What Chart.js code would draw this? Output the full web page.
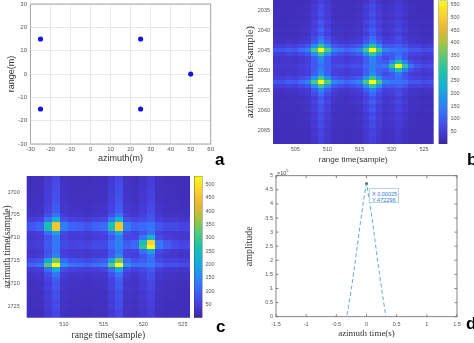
<!DOCTYPE html>
<html><head><meta charset="utf-8">
<script src="https://cdn.jsdelivr.net/npm/chart.js@4.4.1/dist/chart.umd.min.js"></script>
<style>
html,body{margin:0;padding:0;background:#fff;}
#wrap{position:relative;width:474px;height:343px;overflow:hidden;background:#fff;}
canvas{position:absolute;left:0;top:0;}
.lbl{position:absolute;font:bold 17px "Liberation Sans",Arial,sans-serif;line-height:17px;color:#000;}
.tip{position:absolute;left:369px;top:188px;width:30px;height:15px;border:1px solid #b8d2ee;background:#fff;font:5.5px "Liberation Sans",Arial,sans-serif;color:#2a7ad5;line-height:6px;padding:1.5px 2px;box-sizing:border-box;white-space:nowrap;}
.exp{position:absolute;left:277px;top:168px;font:5.5px "Liberation Sans",Arial,sans-serif;color:#444;line-height:6px;}
.exp sup{font-size:4px;}
</style></head><body>
<div id="wrap">
<canvas id="ca" width="474" height="343"></canvas>
<canvas id="cb" width="474" height="343"></canvas>
<canvas id="cbBar" width="474" height="343"></canvas>
<canvas id="cc" width="474" height="343"></canvas>
<canvas id="ccBar" width="474" height="343"></canvas>
<canvas id="cd" width="474" height="343"></canvas>
<div class="lbl" style="left:215px;top:151px;">a</div>
<div class="lbl" style="left:467px;top:151px;">b</div>
<div class="lbl" style="left:216px;top:318px;">c</div>
<div class="lbl" style="left:466px;top:315px;">d</div>
<div class="tip">X 0.00025<br>Y 472296</div>
<div class="exp">×10<sup>5</sup></div>
</div>
<script>
// ---------- Panel a: point targets ----------
const aAzimuth = [-25, 25, -25, 25, 50];
const aRange   = [15, 15, -15, -15, 0];
const aXTicks = [-30,-20,-10,0,10,20,30,40,50,60];
const aYTicks = [-30,-20,-10,0,10,20,30];

// ---------- Panel b: imaging result ----------
const bRangeBins = [502,503,504,505,506,507,508,509,510,511,512,513,514,515,516,517,518,519,520,521,522,523,524,525,526];
const bAzBins = [2033,2034,2035,2036,2037,2038,2039,2040,2041,2042,2043,2044,2045,2046,2047,2048,2049,2050,2051,2052,2053,2054,2055,2056,2057,2058,2059,2060,2061,2062,2063,2064,2065,2066,2067,2068];
const bTargetRange = [509, 517, 521, 509, 517];
const bTargetAz    = [2045, 2045, 2049, 2053, 2053];
const bTargetAmp   = [520, 495, 545, 530, 505];
const bRangeProfile = [1, 0.5, 0.2, 0.12, 0.09, 0.1, 0.08, 0.09, 0.07, 0.08, 0.06, 0.07, 0.05, 0.06, 0.05, 0.05, 0.04, 0.04, 0.04, 0.04, 0.03];
const bAzProfile    = [1, 0.46, 0.2, 0.12, 0.08, 0.1, 0.07, 0.09, 0.06, 0.08, 0.06, 0.07, 0.05, 0.06, 0.05, 0.05, 0.04, 0.04, 0.04, 0.04, 0.03, 0.03, 0.03, 0.03, 0.03];
const bFloor = 10;
const bColorMax = 567;
const bXTicks = [505, 510, 515, 520, 525];
const bYTicks = [2035, 2040, 2045, 2050, 2055, 2060, 2065];
const bBarTicks = [50,100,150,200,250,300,350,400,450,500,550];

// ---------- Panel c: imaging result ----------
const cRangeBins = [505,506,507,508,509,510,511,512,513,514,515,516,517,518,519,520,521,522,523,524,525,526];
const cAzBins = [1697,1698,1699,1700,1701,1702,1703,1704,1705,1706,1707,1708,1709,1710,1711,1712,1713,1714,1715,1716,1717,1718,1719,1720,1721,1722,1723,1724,1725,1726,1727];
const cTargetRange = [509, 509, 517, 517, 521, 521, 509, 517];
const cTargetAz    = [1708, 1707, 1708, 1707, 1712, 1711, 1716, 1716];
const cTargetAmp   = [330, 200, 330, 200, 470, 200, 495, 490];
const cRangeLeft  = [1, 0.5, 0.16, 0.11, 0.08, 0.09, 0.07, 0.08, 0.06, 0.07, 0.05, 0.06, 0.05, 0.05, 0.04, 0.04, 0.04, 0.04];
const cRangeRight = [1, 0.22, 0.14, 0.1, 0.08, 0.09, 0.07, 0.08, 0.06, 0.07, 0.05, 0.06, 0.05, 0.05, 0.04, 0.04, 0.04, 0.04];
const cAzUp   = [1, 0.55, 0.18, 0.11, 0.08, 0.09, 0.07, 0.08, 0.06, 0.07, 0.05, 0.06, 0.05, 0.05, 0.04, 0.04, 0.04, 0.04, 0.04, 0.03, 0.03];
const cAzDown = [1, 0.3, 0.15, 0.1, 0.08, 0.09, 0.07, 0.08, 0.06, 0.07, 0.05, 0.06, 0.05, 0.05, 0.04, 0.04, 0.04, 0.04, 0.04, 0.03, 0.03];
const cFloor = 10;
const cColorMax = 532;
const cXTicks = [510, 515, 520, 525];
const cYTicks = [1700, 1705, 1710, 1715, 1720, 1725];
const cBarTicks = [50,100,150,200,250,300,350,400,450,500];

// ---------- Panel d: azimuth profile ----------
const dAzTime = [-0.36, -0.33, -0.3, -0.25, -0.2, -0.15, -0.1, -0.05, 0.00025, 0.05, 0.1, 0.15, 0.2, 0.25, 0.3, 0.32, 0.35];
const dAmplitude = [-40000, 0, 35000, 100000, 175000, 255000, 335000, 410000, 472296, 410000, 335000, 255000, 175000, 100000, 30000, 0, -45000];
const dPeakTime = 0.00025;
const dPeakAmp = 472296;
const dXTicks = [-1.5, -1, -0.5, 0, 0.5, 1, 1.5];
const dYTicks = [0, 50000, 100000, 150000, 200000, 250000, 300000, 350000, 400000, 450000, 500000];

// ---------- helpers ----------
const SANS = "'Liberation Sans', Arial, sans-serif";
const SERIF = "'Liberation Serif', 'Times New Roman', serif";
const TICKC = '#555';
const PARULA = [[62,38,168],[71,64,224],[60,104,250],[38,142,240],[20,176,214],[28,194,172],[84,202,122],[165,196,64],[232,182,50],[252,210,44],[249,251,21]];
function parula(t){
  t = Math.max(0, Math.min(1, t));
  const s = t*(PARULA.length-1), i = Math.min(Math.floor(s), PARULA.length-2), f = s-i;
  const a = PARULA[i], b = PARULA[i+1];
  return 'rgb(' + [0,1,2].map(k => Math.round(a[k]+(b[k]-a[k])*f)).join(',') + ')';
}
function pick(neg, pos, d){ const arr = d < 0 ? neg : pos; return arr[Math.min(Math.abs(d), arr.length-1)]; }
function buildCells(rBins, zBins, tr, tz, amp, rL, rR, zU, zD, floor){
  const out = [];
  for (const r of rBins) for (const z of zBins){
    let v = floor;
    for (let k = 0; k < tr.length; k++) v += amp[k]*pick(rL, rR, r-tr[k])*pick(zU, zD, z-tz[k]);
    out.push({x: r, y: z, v});
  }
  return out;
}
const fixedTicks = vals => s => { s.ticks = vals.map(v => ({value: v})); };
const fitX = h => s => { s.height = h; s.paddingLeft = 0; s.paddingRight = 0; };
const fitY = w => s => { s.width = w; s.paddingTop = 0; s.paddingBottom = 0; };
const num = v => String(v);
const NOGRID = {display:false, drawTicks:false};

const heatPlugin = {
  id: 'heat',
  beforeDatasetsDraw(chart){
    const ds = chart.data.datasets[0];
    const {ctx, chartArea: a, scales: {x, y}} = chart;
    ctx.save(); ctx.beginPath(); ctx.rect(a.left, a.top, a.width, a.height); ctx.clip();
    for (const c of ds.data){
      const x0 = Math.round(x.getPixelForValue(c.x-0.5)), x1 = Math.round(x.getPixelForValue(c.x+0.5));
      const y0 = Math.round(y.getPixelForValue(c.y-0.5)), y1 = Math.round(y.getPixelForValue(c.y+0.5));
      ctx.fillStyle = parula(c.v/ds.vmax);
      ctx.fillRect(Math.min(x0,x1), Math.min(y0,y1), Math.abs(x1-x0), Math.abs(y1-y0));
    }
    ctx.restore();
  }
};
const framePlugin = {
  id: 'frame',
  afterDatasetsDraw(chart, args, o){
    if (!o || !o.color) return;
    const a = chart.chartArea, c = chart.ctx;
    c.save(); c.strokeStyle = o.color; c.lineWidth = o.width || 1;
    c.strokeRect(a.left, a.top, a.width, a.height);
    if (o.ticks){
      const L = o.ticks;
      c.beginPath();
      for (const t of chart.scales.x.ticks){ const p = chart.scales.x.getPixelForValue(t.value); c.moveTo(p, a.bottom); c.lineTo(p, a.bottom-L); c.moveTo(p, a.top); c.lineTo(p, a.top+L); }
      for (const t of chart.scales.y.ticks){ const p = chart.scales.y.getPixelForValue(t.value); c.moveTo(a.left, p); c.lineTo(a.left+L, p); c.moveTo(a.right, p); c.lineTo(a.right-L, p); }
      c.stroke();
    }
    c.restore();
  }
};
Chart.defaults.animation = false;
Chart.defaults.events = [];
Chart.defaults.plugins.legend.display = false;
Chart.defaults.plugins.tooltip.enabled = false;
Chart.defaults.responsive = false;
Chart.defaults.font.family = SANS;

function tickOpts(size, pad){ return {font:{family:SANS, size}, color:TICKC, padding:pad, maxRotation:0, autoSkip:false, callback:num}; }

// ---------- Chart a ----------
new Chart(document.getElementById('ca'), {
  type: 'scatter',
  data: {datasets: [{data: aAzimuth.map((x,i) => ({x, y: aRange[i]})), pointRadius: 2.6, backgroundColor: '#1717dc', borderWidth: 0}]},
  plugins: [framePlugin],
  options: {
    layout: {padding: {left: 6.6, top: 0.5, right: 263.3, bottom: 178.6}},
    plugins: {frame: {color: '#a8a8a8', width: 1}},
    scales: {
      x: {type:'linear', min:-30, max:60, afterBuildTicks: fixedTicks(aXTicks), afterFit: fitX(20.4),
          ticks: tickOpts(6, 1.7), grid: {color:'#e8e8e8', drawTicks:false}, border:{display:false},
          title: {display:true, text:'azimuth(m)', font:{family:SANS, size:9}, color:'#333', padding:0}},
      y: {type:'linear', min:-30, max:30, afterBuildTicks: fixedTicks(aYTicks), afterFit: fitY(23.9),
          ticks: tickOpts(6, 3.5), grid: {color:'#e8e8e8', drawTicks:false}, border:{display:false},
          title: {display:true, text:'range(m)', font:{family:SANS, size:9}, color:'#333', padding:0}}
    }
  }
});

// ---------- Chart b ----------
const bCells = buildCells(bRangeBins, bAzBins, bTargetRange, bTargetAz, bTargetAmp, bRangeProfile, bRangeProfile, bAzProfile, bAzProfile, bFloor);
new Chart(document.getElementById('cb'), {
  type: 'scatter',
  data: {datasets: [{data: bCells, vmax: bColorMax, pointRadius: 0}]},
  plugins: [heatPlugin],
  options: {
    layout: {padding: {left: 244, top: 0, right: 40.3, bottom: 178.2}},
    scales: {
      x: {type:'linear', min:501.5, max:526.5, afterBuildTicks: fixedTicks(bXTicks), afterFit: fitX(20.8),
          ticks: tickOpts(5.5, 1.8), grid: NOGRID, border:{display:false},
          title: {display:true, text:'range time(sample)', font:{family:SANS, size:8}, color:'#333', padding:0}},
      y: {type:'linear', reverse:true, min:2032.5, max:2068.5, afterBuildTicks: fixedTicks(bYTicks), afterFit: fitY(28.7),
          ticks: tickOpts(5.5, 2.7), grid: NOGRID, border:{display:false},
          title: {display:true, text:'azimuth time(sample)', font:{family:SERIF, size:10.5}, color:'#333', padding:0}}
    }
  }
});

function colorbar(id, vmax, ticks, pad, w){
  return new Chart(document.getElementById(id), {
    type: 'bar',
    data: {labels: ['c'], datasets: [{data: [[0, vmax]], barPercentage:1, categoryPercentage:1, borderWidth:0.7, borderColor:'#333', borderSkipped:false,
      backgroundColor: ctx => {
        const a = ctx.chart.chartArea; if (!a) return '#3e26a8';
        const g = ctx.chart.ctx.createLinearGradient(0, a.bottom, 0, a.top);
        PARULA.forEach((c, i) => g.addColorStop(i/(PARULA.length-1), 'rgb(' + c.join(',') + ')'));
        return g;
      }}]},
    options: {
      layout: {padding: pad},
      scales: {
        x: {display:false},
        y: {position:'right', min:0, max:vmax, afterBuildTicks: fixedTicks(ticks), afterFit: fitY(w),
            ticks: tickOpts(5.5, 3), grid: NOGRID, border:{display:false}}
      }
    }
  });
}
colorbar('cbBar', bColorMax, bBarTicks, {left:438.5, top:0.5, right:0.5, bottom:199}, 26);

// ---------- Chart c ----------
const cCells = buildCells(cRangeBins, cAzBins, cTargetRange, cTargetAz, cTargetAmp, cRangeLeft, cRangeRight, cAzUp, cAzDown, cFloor);
new Chart(document.getElementById('cc'), {
  type: 'scatter',
  data: {datasets: [{data: cCells, vmax: cColorMax, pointRadius: 0}]},
  plugins: [heatPlugin],
  options: {
    layout: {padding: {left: 1.3, top: 176, right: 284, bottom: 1.6}},
    scales: {
      x: {type:'linear', min:505.3, max:525.9, afterBuildTicks: fixedTicks(cXTicks), afterFit: fitX(23.7),
          ticks: tickOpts(5.5, 3), grid: NOGRID, border:{display:false},
          title: {display:true, text:'range time(sample)', font:{family:SERIF, size:9.5}, color:'#333', padding:0}},
      y: {type:'linear', reverse:true, min:1696.5, max:1727.5, afterBuildTicks: fixedTicks(cYTicks), afterFit: fitY(25.4),
          ticks: tickOpts(5.5, 7), grid: NOGRID, border:{display:false},
          title: {display:true, text:'azimuth time(sample)', font:{family:SERIF, size:9.5}, color:'#333', padding:0}}
    }
  }
});
colorbar('ccBar', cColorMax, cBarTicks, {left:194, top:176, right:251.5, bottom:25.3}, 20);

// ---------- Chart d ----------
new Chart(document.getElementById('cd'), {
  type: 'scatter',
  data: {datasets: [
    {data: dAzTime.map((x,i) => ({x, y: dAmplitude[i]})), showLine:true, borderColor:'#62a9df', borderWidth:1, borderDash:[4,2.5], pointRadius:0, clip:0},
    {data: [{x: dPeakTime, y: dPeakAmp}], pointRadius:1.6, pointStyle:'rect', backgroundColor:'#111', borderWidth:0}
  ]},
  plugins: [framePlugin],
  options: {
    layout: {padding: {left: 243.7, top: 175.7, right: 17, bottom: 3.6}},
    plugins: {frame: {color: '#666', width: 0.8, ticks: 2.5}},
    scales: {
      x: {type:'linear', min:-1.5, max:1.5, afterBuildTicks: fixedTicks(dXTicks), afterFit: fitX(22.7),
          ticks: tickOpts(5.5, 4), grid: NOGRID, border:{display:false},
          title: {display:true, text:'azimuth time(s)', font:{family:SERIF, size:9}, color:'#333', padding:0}},
      y: {type:'linear', min:0, max:500000, afterBuildTicks: fixedTicks(dYTicks), afterFit: fitY(32.3),
          ticks: Object.assign(tickOpts(5.5, 3), {callback: v => String(v/100000)}), grid: NOGRID, border:{display:false},
          title: {display:true, text:'amplitude', font:{family:SERIF, size:10}, color:'#333', padding:0}}
    }
  }
});
</script>
</body></html>
